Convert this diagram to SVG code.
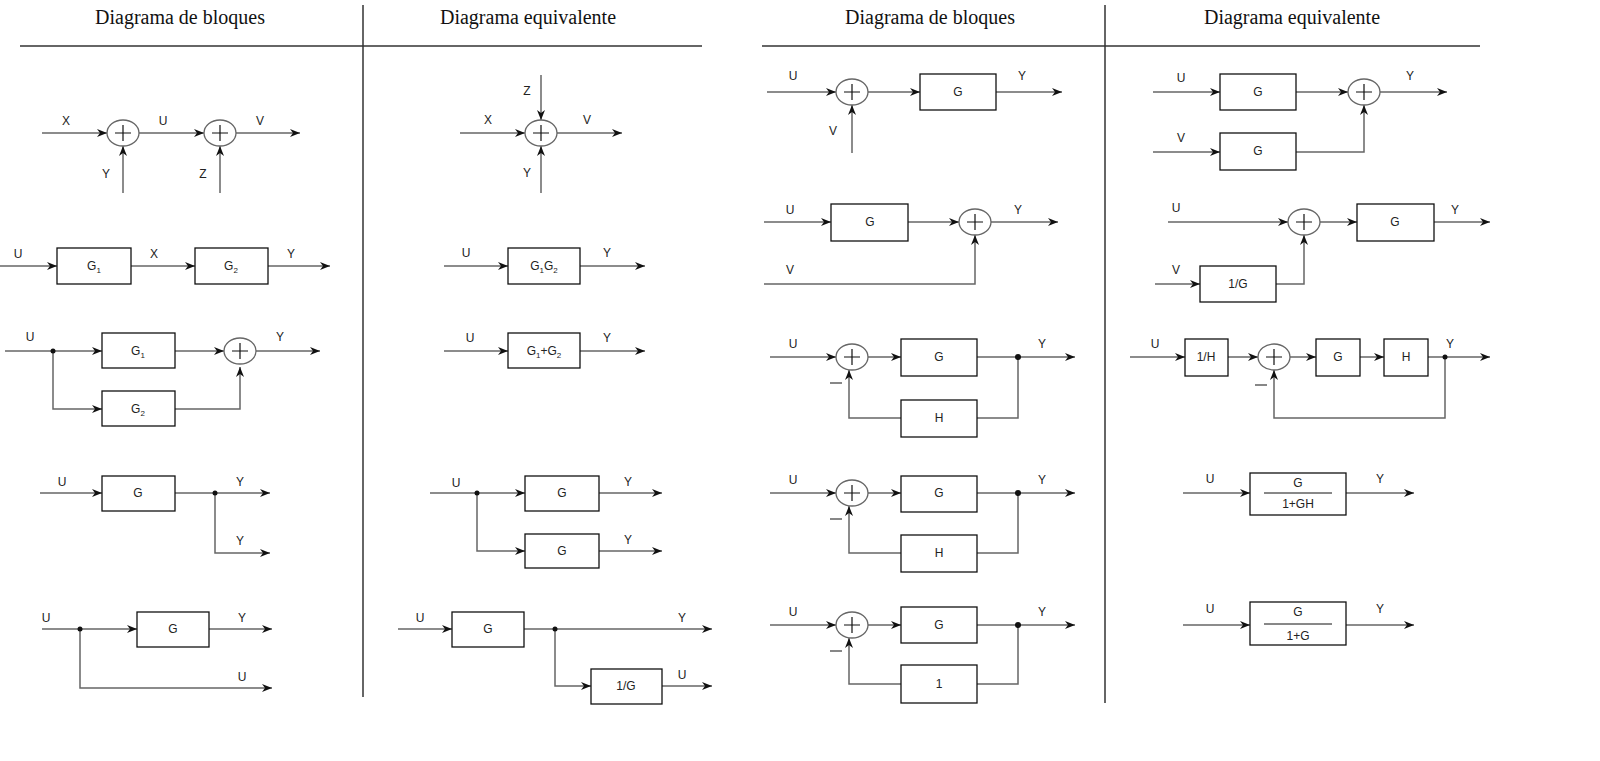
<svg xmlns="http://www.w3.org/2000/svg" width="1600" height="761" viewBox="0 0 1600 761">
<defs>
<marker id="a" viewBox="0 0 10 8" refX="10" refY="4" markerWidth="10" markerHeight="8" markerUnits="userSpaceOnUse" orient="auto"><path d="M0,0 L10,4 L0,8 L3,4 z" fill="#111"/></marker>
<style>
.t{font-family:"Liberation Serif",serif;font-size:20px;fill:#111;text-anchor:middle}
.l{font-family:"Liberation Sans",Arial,sans-serif;font-size:12px;fill:#222;text-anchor:middle}
.w{stroke:#666;stroke-width:1.5;fill:none}
.wa{stroke:#666;stroke-width:1.5;fill:none;marker-end:url(#a)}
.b{stroke:#111;stroke-width:1.3;fill:#fff}
.s{stroke:#666;stroke-width:1.3;fill:#fff}
.p{stroke:#111;stroke-width:1.2}
.k{stroke:#333;stroke-width:1.5}
</style>
</defs>
<rect width="1600" height="761" fill="#fff"/>
<g id="frame">
<line class="k" x1="20" y1="46" x2="702" y2="46"/>
<line class="k" x1="762" y1="46" x2="1480" y2="46"/>
<line class="k" x1="363" y1="5" x2="363" y2="697"/>
<line class="k" x1="1105" y1="5" x2="1105" y2="703"/>
<text class="t" x="180" y="24">Diagrama de bloques</text>
<text class="t" x="528" y="24">Diagrama equivalente</text>
<text class="t" x="930" y="24">Diagrama de bloques</text>
<text class="t" x="1292" y="24">Diagrama equivalente</text>
</g>
<g id="connectors">
<!-- col1 -->
<path class="wa" d="M42,133H107"/><path class="wa" d="M139,133H204"/><path class="wa" d="M236,133H300"/>
<path class="wa" d="M123,193V146"/><path class="wa" d="M220,193V146"/>
<path class="wa" d="M0,266H57"/><path class="wa" d="M131,266H195"/><path class="wa" d="M268,266H330"/>
<path class="wa" d="M5,351H102"/><path class="wa" d="M175,351H224"/><path class="wa" d="M256,351H320"/>
<path class="wa" d="M53,351V409H102"/><path class="wa" d="M175,409H240V367"/>
<path class="wa" d="M40,493H102"/><path class="wa" d="M175,493H270"/><path class="wa" d="M215,493V553H270"/>
<path class="wa" d="M42,629H137"/><path class="wa" d="M209,629H272"/><path class="wa" d="M80,629V688H272"/>
<!-- col2 -->
<path class="wa" d="M541,75V120"/><path class="wa" d="M460,133H525"/><path class="wa" d="M557,133H622"/><path class="wa" d="M541,193V146"/>
<path class="wa" d="M444,266H508"/><path class="wa" d="M580,266H645"/>
<path class="wa" d="M444,351H508"/><path class="wa" d="M580,351H645"/>
<path class="wa" d="M430,493H525"/><path class="wa" d="M599,493H662"/><path class="wa" d="M477,493V551H525"/><path class="wa" d="M599,551H662"/>
<path class="wa" d="M398,629H452"/><path class="wa" d="M524,629H712"/><path class="wa" d="M555,629V686H591"/><path class="wa" d="M662,686H712"/>
<!-- col3 -->
<path class="wa" d="M767,92H836"/><path class="wa" d="M868,92H920"/><path class="wa" d="M996,92H1062"/><path class="wa" d="M852,153V105"/>
<path class="wa" d="M764,222H831"/><path class="wa" d="M908,222H959"/><path class="wa" d="M991,222H1058"/><path class="wa" d="M764,284H975V235"/>
<path class="wa" d="M770,357H836"/><path class="wa" d="M868,357H901"/><path class="wa" d="M977,357H1075"/><path class="w" d="M1018,357V418H977"/><path class="wa" d="M901,418H849V370"/>
<path class="wa" d="M770,493H836"/><path class="wa" d="M868,493H901"/><path class="wa" d="M977,493H1075"/><path class="w" d="M1018,493V553H977"/><path class="wa" d="M901,553H849V506"/>
<path class="wa" d="M770,625H836"/><path class="wa" d="M868,625H901"/><path class="wa" d="M977,625H1075"/><path class="w" d="M1018,625V684H977"/><path class="wa" d="M901,684H849V638"/>
<!-- col4 -->
<path class="wa" d="M1153,92H1220"/><path class="wa" d="M1296,92H1348"/><path class="wa" d="M1380,92H1447"/>
<path class="wa" d="M1153,152H1220"/><path class="wa" d="M1296,152H1364V105"/>
<path class="wa" d="M1168,222H1288"/><path class="wa" d="M1320,222H1357"/><path class="wa" d="M1434,222H1490"/>
<path class="wa" d="M1155,284H1200"/><path class="wa" d="M1276,284H1304V235"/>
<path class="wa" d="M1130,357H1185"/><path class="wa" d="M1228,357H1258"/><path class="wa" d="M1290,357H1316"/><path class="wa" d="M1360,357H1384"/><path class="wa" d="M1428,357H1490"/>
<path class="wa" d="M1445,357V418H1274V370"/>
<path class="wa" d="M1183,493H1250"/><path class="wa" d="M1346,493H1414"/>
<path class="wa" d="M1183,625H1250"/><path class="wa" d="M1346,625H1414"/>
</g>
<g id="dots" fill="#111">
<circle cx="53" cy="351" r="2.5"/><circle cx="215" cy="493" r="2.5"/><circle cx="80" cy="629" r="2.5"/>
<circle cx="477" cy="493" r="2.5"/><circle cx="555" cy="629" r="2.5"/>
<circle cx="1018" cy="357" r="3"/><circle cx="1018" cy="493" r="3"/><circle cx="1018" cy="625" r="3"/><circle cx="1445" cy="357" r="2.5"/>
</g>
<g id="sums">
<g id="s1"><ellipse class="s" cx="123" cy="133" rx="16" ry="13"/><path class="p" d="M115,133H131M123,125V141"/></g>
<g id="s2"><ellipse class="s" cx="220" cy="133" rx="16" ry="13"/><path class="p" d="M212,133H228M220,125V141"/></g>
<g id="s3"><ellipse class="s" cx="240" cy="351" rx="16" ry="13"/><path class="p" d="M232,351H248M240,343V359"/></g>
<g id="s4"><ellipse class="s" cx="541" cy="133" rx="16" ry="13"/><path class="p" d="M533,133H549M541,125V141"/></g>
<g id="s5"><ellipse class="s" cx="852" cy="92" rx="16" ry="13"/><path class="p" d="M844,92H860M852,84V100"/></g>
<g id="s6"><ellipse class="s" cx="975" cy="222" rx="16" ry="13"/><path class="p" d="M967,222H983M975,214V230"/></g>
<g id="s7"><ellipse class="s" cx="852" cy="357" rx="16" ry="13"/><path class="p" d="M844,357H860M852,349V365"/></g>
<g id="s8"><ellipse class="s" cx="852" cy="493" rx="16" ry="13"/><path class="p" d="M844,493H860M852,485V501"/></g>
<g id="s9"><ellipse class="s" cx="852" cy="625" rx="16" ry="13"/><path class="p" d="M844,625H860M852,617V633"/></g>
<g id="s10"><ellipse class="s" cx="1364" cy="92" rx="16" ry="13"/><path class="p" d="M1356,92H1372M1364,84V100"/></g>
<g id="s11"><ellipse class="s" cx="1304" cy="222" rx="16" ry="13"/><path class="p" d="M1296,222H1312M1304,214V230"/></g>
<g id="s12"><ellipse class="s" cx="1274" cy="357" rx="16" ry="13"/><path class="p" d="M1266,357H1282M1274,349V365"/></g>
</g>
<g id="blocks">
<g id="b1"><rect class="b" x="57" y="248" width="74" height="36"/><text class="l" x="94" y="270">G<tspan font-size="8" dy="3">1</tspan></text></g>
<g id="b2"><rect class="b" x="195" y="248" width="73" height="36"/><text class="l" x="231" y="270">G<tspan font-size="8" dy="3">2</tspan></text></g>
<g id="b3"><rect class="b" x="102" y="333" width="73" height="35"/><text class="l" x="138" y="355">G<tspan font-size="8" dy="3">1</tspan></text></g>
<g id="b4"><rect class="b" x="102" y="391" width="73" height="35"/><text class="l" x="138" y="413">G<tspan font-size="8" dy="3">2</tspan></text></g>
<g id="b5"><rect class="b" x="102" y="476" width="73" height="35"/><text class="l" x="138" y="497">G</text></g>
<g id="b6"><rect class="b" x="137" y="612" width="72" height="35"/><text class="l" x="173" y="633">G</text></g>
<g id="b7"><rect class="b" x="508" y="248" width="72" height="36"/><text class="l" x="544" y="270">G<tspan font-size="8" dy="3">1</tspan><tspan dy="-3">G</tspan><tspan font-size="8" dy="3">2</tspan></text></g>
<g id="b8"><rect class="b" x="508" y="333" width="72" height="35"/><text class="l" x="544" y="355">G<tspan font-size="8" dy="3">1</tspan><tspan dy="-3">+G</tspan><tspan font-size="8" dy="3">2</tspan></text></g>
<g id="b9"><rect class="b" x="525" y="476" width="74" height="35"/><text class="l" x="562" y="497">G</text></g>
<g id="b10"><rect class="b" x="525" y="534" width="74" height="34"/><text class="l" x="562" y="555">G</text></g>
<g id="b11"><rect class="b" x="452" y="612" width="72" height="35"/><text class="l" x="488" y="633">G</text></g>
<g id="b12"><rect class="b" x="591" y="669" width="71" height="35"/><text class="l" x="626" y="690">1/G</text></g>
<g id="b13"><rect class="b" x="920" y="74" width="76" height="36"/><text class="l" x="958" y="96">G</text></g>
<g id="b14"><rect class="b" x="831" y="204" width="77" height="37"/><text class="l" x="870" y="226">G</text></g>
<g id="b15"><rect class="b" x="901" y="339" width="76" height="37"/><text class="l" x="939" y="361">G</text></g>
<g id="b16"><rect class="b" x="901" y="400" width="76" height="37"/><text class="l" x="939" y="422">H</text></g>
<g id="b17"><rect class="b" x="901" y="476" width="76" height="36"/><text class="l" x="939" y="497">G</text></g>
<g id="b18"><rect class="b" x="901" y="535" width="76" height="37"/><text class="l" x="939" y="557">H</text></g>
<g id="b19"><rect class="b" x="901" y="607" width="76" height="36"/><text class="l" x="939" y="629">G</text></g>
<g id="b20"><rect class="b" x="901" y="665" width="76" height="38"/><text class="l" x="939" y="688">1</text></g>
<g id="b21"><rect class="b" x="1220" y="74" width="76" height="36"/><text class="l" x="1258" y="96">G</text></g>
<g id="b22"><rect class="b" x="1220" y="133" width="76" height="37"/><text class="l" x="1258" y="155">G</text></g>
<g id="b23"><rect class="b" x="1357" y="204" width="77" height="37"/><text class="l" x="1395" y="226">G</text></g>
<g id="b24"><rect class="b" x="1200" y="266" width="76" height="36"/><text class="l" x="1238" y="288">1/G</text></g>
<g id="b25"><rect class="b" x="1185" y="339" width="43" height="37"/><text class="l" x="1206" y="361">1/H</text></g>
<g id="b26"><rect class="b" x="1316" y="339" width="44" height="37"/><text class="l" x="1338" y="361">G</text></g>
<g id="b27"><rect class="b" x="1384" y="339" width="44" height="37"/><text class="l" x="1406" y="361">H</text></g>
<g id="b28"><rect class="b" x="1250" y="473" width="96" height="42"/><text class="l" x="1298" y="487">G</text><line x1="1264" y1="493" x2="1332" y2="493" stroke="#111"/><text class="l" x="1298" y="508">1+GH</text></g>
<g id="b29"><rect class="b" x="1250" y="602" width="96" height="43"/><text class="l" x="1298" y="616">G</text><line x1="1264" y1="624" x2="1332" y2="624" stroke="#111"/><text class="l" x="1298" y="640">1+G</text></g>
</g>
<g id="labels">
<text class="l" x="66" y="125">X</text><text class="l" x="163" y="125">U</text><text class="l" x="260" y="125">V</text><text class="l" x="106" y="178">Y</text><text class="l" x="203" y="178">Z</text>
<text class="l" x="18" y="258">U</text><text class="l" x="154" y="258">X</text><text class="l" x="291" y="258">Y</text>
<text class="l" x="30" y="341">U</text><text class="l" x="280" y="341">Y</text>
<text class="l" x="62" y="486">U</text><text class="l" x="240" y="486">Y</text><text class="l" x="240" y="545">Y</text>
<text class="l" x="46" y="622">U</text><text class="l" x="242" y="622">Y</text><text class="l" x="242" y="681">U</text>
<text class="l" x="527" y="95">Z</text><text class="l" x="488" y="124">X</text><text class="l" x="587" y="124">V</text><text class="l" x="527" y="177">Y</text>
<text class="l" x="466" y="257">U</text><text class="l" x="607" y="257">Y</text>
<text class="l" x="470" y="342">U</text><text class="l" x="607" y="342">Y</text>
<text class="l" x="456" y="487">U</text><text class="l" x="628" y="486">Y</text><text class="l" x="628" y="544">Y</text>
<text class="l" x="420" y="622">U</text><text class="l" x="682" y="622">Y</text><text class="l" x="682" y="679">U</text>
<text class="l" x="793" y="80">U</text><text class="l" x="1022" y="80">Y</text><text class="l" x="833" y="135">V</text>
<text class="l" x="790" y="214">U</text><text class="l" x="1018" y="214">Y</text><text class="l" x="790" y="274">V</text>
<text class="l" x="793" y="348">U</text><text class="l" x="1042" y="348">Y</text>
<text class="l" x="793" y="484">U</text><text class="l" x="1042" y="484">Y</text>
<text class="l" x="793" y="616">U</text><text class="l" x="1042" y="616">Y</text>
<text class="l" x="1181" y="82">U</text><text class="l" x="1410" y="80">Y</text><text class="l" x="1181" y="142">V</text>
<text class="l" x="1176" y="212">U</text><text class="l" x="1455" y="214">Y</text><text class="l" x="1176" y="274">V</text>
<text class="l" x="1155" y="348">U</text><text class="l" x="1450" y="348">Y</text>
<text class="l" x="1210" y="483">U</text><text class="l" x="1380" y="483">Y</text>
<text class="l" x="1210" y="613">U</text><text class="l" x="1380" y="613">Y</text>
<path class="p" d="M830,383H842M830,519H842M830,651H842M1255,385H1267"/>
</g>
</svg>
